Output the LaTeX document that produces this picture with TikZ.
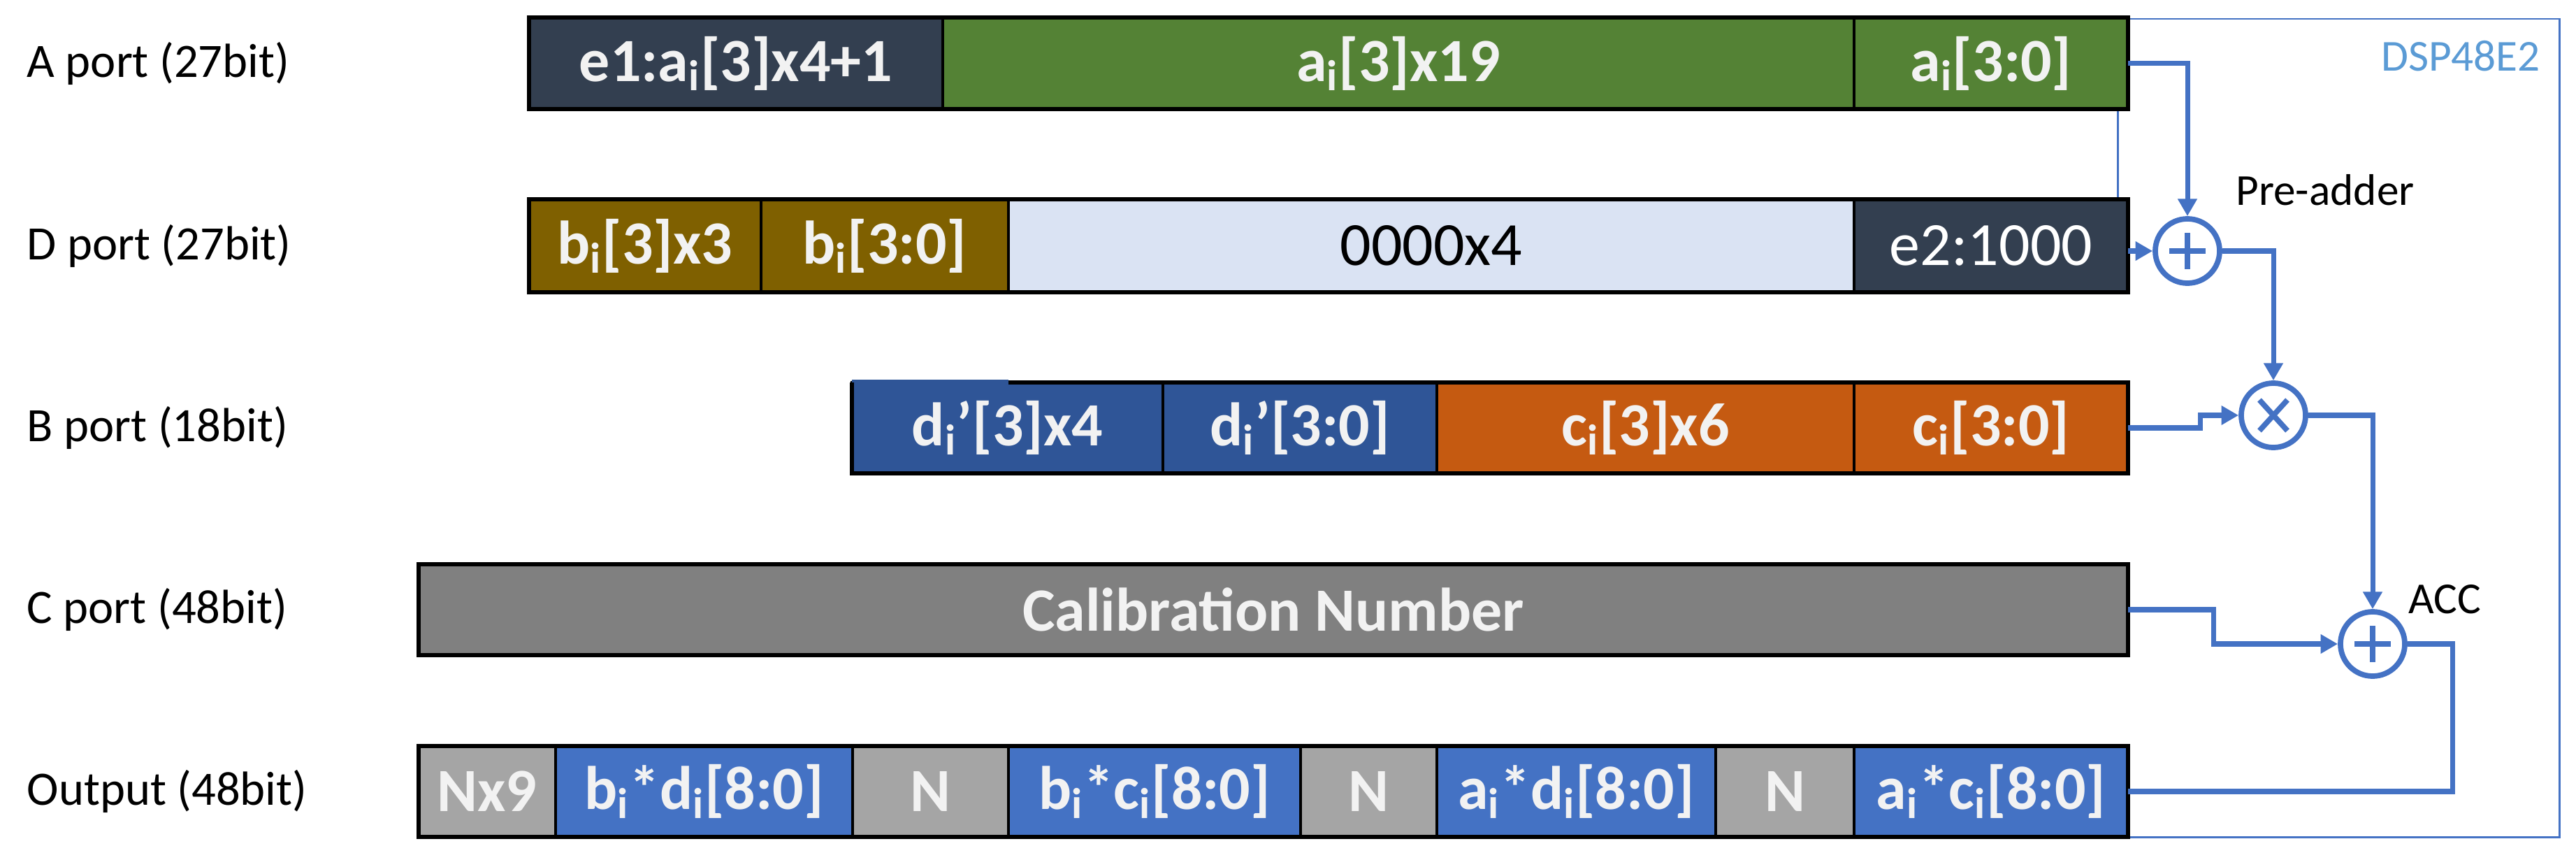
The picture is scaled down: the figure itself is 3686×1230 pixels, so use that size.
\documentclass[tikz,border=0pt]{standalone}
\usepackage{fontspec}
\setmainfont{Carlito}
\usetikzlibrary{fit,arrows.meta,calc}
\definecolor{slate}{HTML}{333F50}
\definecolor{grn}{HTML}{548235}
\definecolor{olive}{HTML}{7F6000}
\definecolor{lblue}{HTML}{DAE3F3}
\definecolor{dblue}{HTML}{2F5597}
\definecolor{orng}{HTML}{C55A11}
\definecolor{cgray}{HTML}{808080}
\definecolor{ngray}{HTML}{A5A5A5}
\definecolor{oblue}{HTML}{4472C4}
\definecolor{dsptext}{HTML}{5B9BD5}
\definecolor{wtxt}{HTML}{F2F2F2}
\tikzset{
 cellbox/.style={inner sep=0pt, outer sep=0pt, draw=black, line width=0.9pt},
 ctext/.style={inner sep=0pt, text=wtxt, font=\fontsize{25}{30}\selectfont\bfseries},
 ctextplain/.style={inner sep=0pt, font=\fontsize{25}{30}\selectfont},
 portlabel/.style={anchor=west, inner sep=0pt, font=\fontsize{19.5}{23}\selectfont},
 outerbox/.style={draw=black, line width=1.45pt},
 wire/.style={draw=oblue, line width=2pt},
 arr/.style={wire, -{Triangle[length=7pt,width=7.5pt]}},
 opcircle/.style={circle, draw=oblue, line width=2.2pt, minimum size=0.92cm, inner sep=0pt},
 oppath/.style={draw=oblue, line width=2.2pt},
 smalllabel/.style={inner sep=0pt, font=\fontsize{18}{22}\selectfont},
 dspline/.style={draw=oblue, line width=0.85pt},
}
\newcommand{\sbi}{\textsubscript{i}}
\begin{document}
\begin{tikzpicture}[x=0.01cm,y=-0.01cm]
\useasboundingbox (0,0) rectangle (3686,1230);
% DSP48E2 boundary
\draw[dspline] (3045,27) -- (3662,27) -- (3662,1197) -- (3045,1197);
\draw[dspline] (3030,156) -- (3030,286);
% A port
\node[cellbox, fill=slate, fit={(757,25) (1349,156)}, label={[ctext]center:e1:a\sbi[3]x4+1}] (a1) {};
\node[cellbox, fill=grn, fit={(1349,25) (2653,156)}, label={[ctext]center:a\sbi[3]x19}] (a2) {};
\node[cellbox, fill=grn, fit={(2653,25) (3045,156)}, label={[ctext]center:a\sbi[3:0]}] (a3) {};
\draw[outerbox] (757,25) rectangle (3045,156);
% D port
\node[cellbox, fill=olive, fit={(757,285) (1089,418)}, label={[ctext]center:b\sbi[3]x3}] (d1) {};
\node[cellbox, fill=olive, fit={(1089,285) (1443,418)}, label={[ctext]center:b\sbi[3:0]}] (d2) {};
\node[cellbox, fill=lblue, fit={(1443,285) (2653,418)}, label={[ctextplain, text=black]center:0000x4}] (d3) {};
\node[cellbox, fill=slate, fit={(2653,285) (3045,418)}, label={[ctextplain, text=white]center:e2:1000}] (d4) {};
\draw[outerbox] (757,285) rectangle (3045,418);
% B port
\node[cellbox, fill=dblue, fit={(1219,547) (1664,677)}, label={[ctext]center:d\sbi’[3]x4}] (b1) {};
\node[cellbox, fill=dblue, fit={(1664,547) (2056,677)}, label={[ctext]center:d\sbi’[3:0]}] (b2) {};
\node[cellbox, fill=orng, fit={(2056,547) (2653,677)}, label={[ctext]center:c\sbi[3]x6}] (b3) {};
\node[cellbox, fill=orng, fit={(2653,547) (3045,677)}, label={[ctext]center:c\sbi[3:0]}] (b4) {};
\fill[dblue] (1219,543) rectangle (1443,551);
\draw[outerbox] (1443,547) -- (3045,547) -- (3045,677) -- (1219,677) -- (1219,547);
% C port
\node[cellbox, fill=cgray, fit={(599,807) (3045,937)}, label={[ctext]center:Calibration Number}] (c1) {};
\draw[outerbox] (599,807) rectangle (3045,937);
% Output
\node[cellbox, fill=ngray, fit={(599,1067) (795,1197)}, label={[ctext]center:Nx9}] (o1) {};
\node[cellbox, fill=oblue, fit={(795,1067) (1220,1197)}, label={[ctext]center:b\sbi*d\sbi[8:0]}] (o2) {};
\node[cellbox, fill=ngray, fit={(1220,1067) (1443,1197)}, label={[ctext]center:N}] (o3) {};
\node[cellbox, fill=oblue, fit={(1443,1067) (1861,1197)}, label={[ctext]center:b\sbi*c\sbi[8:0]}] (o4) {};
\node[cellbox, fill=ngray, fit={(1861,1067) (2056,1197)}, label={[ctext]center:N}] (o5) {};
\node[cellbox, fill=oblue, fit={(2056,1067) (2455,1197)}, label={[ctext]center:a\sbi*d\sbi[8:0]}] (o6) {};
\node[cellbox, fill=ngray, fit={(2455,1067) (2653,1197)}, label={[ctext]center:N}] (o7) {};
\node[cellbox, fill=oblue, fit={(2653,1067) (3045,1197)}, label={[ctext]center:a\sbi*c\sbi[8:0]}] (o8) {};
\draw[outerbox] (599,1067) rectangle (3045,1197);
% Port labels
\node[portlabel] (la) at (38,91) {A port (27bit)};
\node[portlabel] (ld) at (38,352) {D port (27bit)};
\node[portlabel] (lb) at (38,612) {B port (18bit)};
\node[portlabel] (lc) at (38,872) {C port (48bit)};
\node[portlabel] (lo) at (38,1132) {Output (48bit)};
% Operators
\node[opcircle] (pre) at (3130,359) {};
\node[opcircle] (mul) at (3253,594) {};
\node[opcircle] (acc) at (3395,921) {};
\draw[oppath] (pre.center) ++(-26,0) -- ++(52,0);
\draw[oppath] (pre.center) ++(0,-26) -- ++(0,52);
\draw[oppath] (acc.center) ++(-26,0) -- ++(52,0);
\draw[oppath] (acc.center) ++(0,-26) -- ++(0,52);
\draw[oppath] (mul.center) ++(-20,-22) -- ++(40,44);
\draw[oppath] (mul.center) ++(-20,22) -- ++(40,-44);
\node[smalllabel] (prelbl) at (3327,272) {Pre-adder};
\node[smalllabel] (acclbl) at (3498,857) {ACC};
\node[smalllabel, text=dsptext] (dsplbl) at (3521,80) {DSP48E2};
% Connectors
\draw[arr] (a3.east) -| (pre.north);
\draw[arr] (d4.east |- pre.west) -- (pre.west);
\draw[arr] (pre.east) -| (mul.north);
\draw[arr] (b4.east) -- ++(103,0) |- (mul.west);
\draw[arr] (mul.east) -| (acc.north);
\draw[arr] (c1.east) -- ++(122,0) |- (acc.west);
\draw[wire] (acc.east) -- ++(65,0) |- (o8.east);
\end{tikzpicture}
\end{document}
